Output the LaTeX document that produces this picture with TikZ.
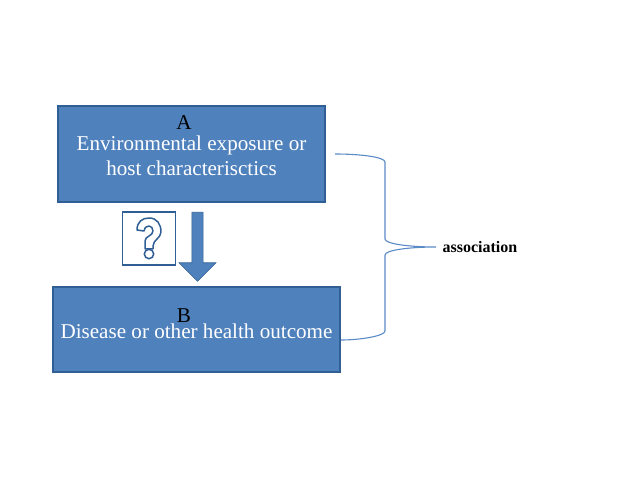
\documentclass[tikz,border=0pt]{standalone}
\usepackage{fontspec}
\setmainfont{Liberation Serif}
\usetikzlibrary{shapes.arrows}
\definecolor{boxfill}{HTML}{4F81BD}
\definecolor{boxline}{HTML}{2F5F94}
\definecolor{braceline}{HTML}{5B8BC6}
\newcommand{\boxstrut}{\rule{0pt}{18.5pt}}
\tikzstyle{block} = [draw=boxline, fill=boxfill, line width=1.3pt, rectangle, text=white, align=center, font=\fontsize{21.1}{25}\selectfont]
\tikzstyle{letter} = [text=black, inner sep=0pt, font=\fontsize{21.1}{25}\selectfont]
\tikzstyle{query} = [draw=boxline, fill=white, line width=1.4pt, rectangle, minimum width=53pt, minimum height=53pt]
\tikzstyle{downarrow} = [draw=boxline, fill=boxfill, line width=0.6pt, single arrow, shape border rotate=270, minimum width=37pt, minimum height=69pt, single arrow head extend=10pt, inner sep=4pt]
\tikzstyle{brace} = [draw=braceline, line width=1.1pt]
\begin{document}
\begin{tikzpicture}[x=1pt,y=-1pt]
\useasboundingbox (0,0) rectangle (638,478);
% Nodes
	\node [block, minimum width=267pt, minimum height=96pt] (exposure) at (191.5,154) {\boxstrut Environmental exposure or\\host characterisctics};
	\node [block, minimum width=287pt, minimum height=85pt] (outcome) at (196.5,329.5) {\boxstrut Disease or other health outcome};
	\node [letter] (labelA) at (184,123) {A};
	\node [letter] (labelB) at (184,316) {B};
	\node [query] (query) at (149,238.5) {};
	\node [downarrow] (causes) at (197.5,246.5) [yshift=2.5pt] {};
	\node [inner sep=0pt, font=\fontsize{16}{18}\selectfont\bfseries] (association) at (480,247) {association};
% Reference points
	\coordinate (braceA) at (335,154);
	\coordinate (braceB) at (341,340);
	\coordinate (bracetip) at (436,247);
% Question mark
	\draw [boxline, line width=1.5pt, line join=round] (137,230) .. controls (137,222) and (142,218) .. (149,218)
		.. controls (157,218) and (161,224) .. (161,232) .. controls (161,238) and (153,240) .. (153,246) -- (153,249) -- (145,249) -- (145,241)
		.. controls (145,236) and (153,236) .. (153,231) .. controls (153,228) and (151,226) .. (149,226)
		.. controls (146,226) and (144,228) .. (144,231) -- cycle;
	\draw [boxline, line width=1.5pt] (149,254) circle (4.7);
% Connections
	\draw [brace] (braceA) .. controls (360,154) and (385,157) .. (385,162) -- (385,239)
		.. controls (385,244) and (410,247) .. (bracetip) .. controls (410,247) and (385,250) .. (385,255) -- (385,331)
		.. controls (385,336) and (360,340) .. (braceB);
\end{tikzpicture}
\end{document}
